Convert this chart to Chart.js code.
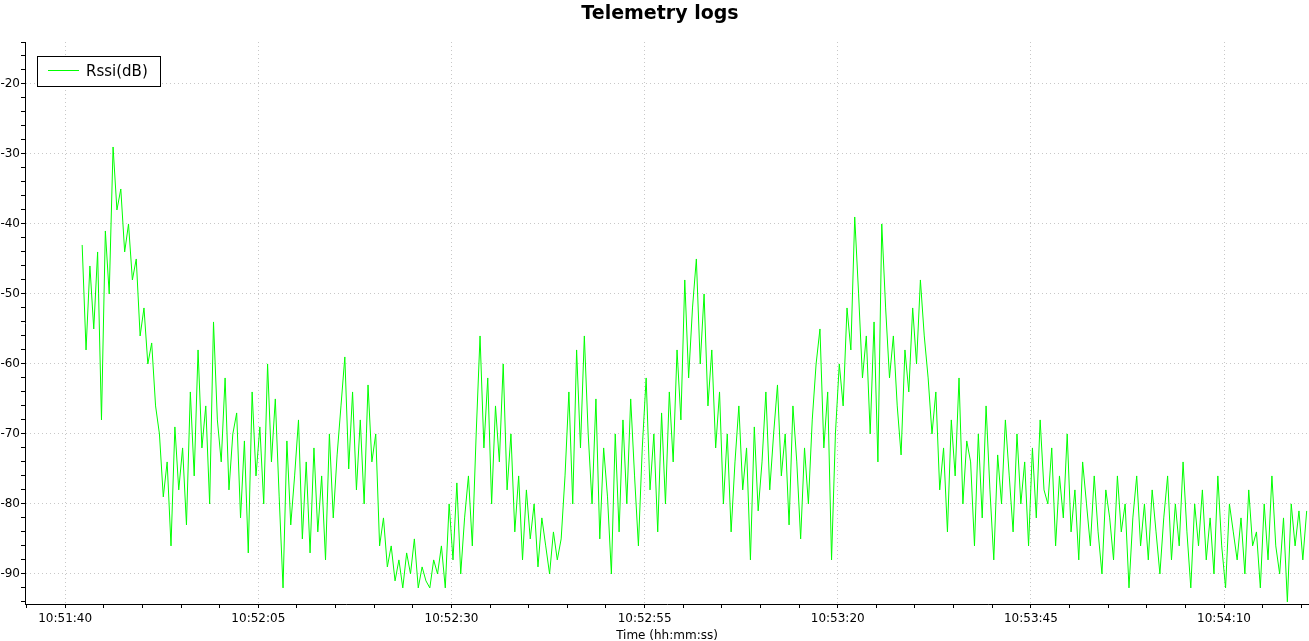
<!DOCTYPE html>
<html>
<head>
<meta charset="utf-8">
<script src="https://cdn.jsdelivr.net/npm/chart.js@4"></script>
<style>
  html, body { margin: 0; padding: 0; background: #fff; }
  #wrap { width: 1309px; height: 641px; }
</style>
</head>
<body>
<div id="wrap"><canvas id="c"></canvas></div>
<script>
// seconds after 10:51:40, first sample and sample spacing
const startSec = 2.2;
const stepSec = 0.5;
const rssi = [
  -43,-58,-46,-55,-44,-68,-41,-50,-29,-38,
  -35,-44,-40,-48,-45,-56,-52,-60,-57,-66,
  -70,-79,-74,-86,-69,-78,-72,-83,-64,-76,
  -58,-72,-66,-80,-54,-68,-74,-62,-78,-70,
  -67,-82,-71,-87,-64,-76,-69,-80,-60,-74,
  -65,-79,-92,-71,-83,-76,-68,-85,-74,-87,
  -72,-84,-76,-88,-70,-82,-73,-66,-59,-75,
  -64,-78,-68,-80,-63,-74,-70,-86,-82,-89,
  -86,-91,-88,-92,-87,-90,-85,-92,-89,-91,
  -92,-88,-90,-86,-92,-80,-88,-77,-90,-82,
  -76,-86,-70,-56,-72,-62,-80,-66,-74,-60,
  -78,-70,-84,-76,-88,-78,-85,-80,-89,-82,
  -86,-90,-84,-88,-85,-76,-64,-80,-58,-72,
  -56,-70,-80,-65,-85,-72,-79,-90,-70,-84,
  -68,-80,-65,-76,-86,-72,-62,-78,-70,-84,
  -67,-80,-64,-74,-58,-68,-48,-62,-52,-45,
  -60,-50,-66,-58,-72,-64,-80,-70,-84,-74,
  -66,-78,-72,-88,-69,-81,-74,-64,-78,-70,
  -63,-76,-70,-83,-66,-74,-85,-72,-80,-68,
  -60,-55,-72,-64,-88,-70,-60,-66,-52,-58,
  -39,-50,-62,-56,-70,-54,-74,-40,-52,-62,
  -56,-66,-73,-58,-64,-52,-60,-48,-56,-62,
  -70,-64,-78,-72,-84,-68,-76,-62,-80,-71,
  -74,-86,-70,-82,-66,-78,-88,-73,-80,-68,
  -76,-84,-70,-80,-74,-86,-72,-82,-68,-78,
  -80,-72,-86,-76,-82,-70,-84,-78,-88,-74,
  -80,-86,-76,-84,-90,-78,-82,-88,-76,-84,
  -80,-92,-82,-76,-86,-80,-88,-78,-84,-90,
  -82,-76,-88,-80,-86,-74,-84,-92,-80,-86,
  -78,-88,-82,-90,-76,-86,-92,-80,-84,-88,
  -82,-90,-78,-86,-84,-92,-80,-88,-76,-86,
  -90,-82,-94,-80,-86,-81,-88,-81
];
const points = rssi.map((v, i) => ({ x: startSec + i * stepSec, y: v }));

function hms(sec) {
  let total = 10 * 3600 + 51 * 60 + 40 + Math.round(sec);
  const h = Math.floor(total / 3600), m = Math.floor(total / 60) % 60, s = total % 60;
  const p = n => String(n).padStart(2, '0');
  return p(h) + ':' + p(m) + ':' + p(s);
}

const font = { family: "'DejaVu Sans', sans-serif", size: 12 };

// title, x title and boxed legend drawn by hand
const decor = {
  id: 'decor',
  afterDraw(chart) {
    const ctx = chart.ctx;
    ctx.save();
    ctx.fillStyle = '#000';
    ctx.textAlign = 'center';
    ctx.textBaseline = 'middle';
    ctx.font = "bold 19px 'DejaVu Sans', sans-serif";
    ctx.fillText('Telemetry logs', 660, 14);
    ctx.font = "12px 'DejaVu Sans', sans-serif";
    ctx.fillText('Time (hh:mm:ss)', 667, 636);
    ctx.fillStyle = '#fff';
    ctx.fillRect(37.5, 56.5, 123, 30);
    ctx.strokeStyle = '#000';
    ctx.lineWidth = 1;
    ctx.strokeRect(37.5, 56.5, 123, 30);
    ctx.strokeStyle = '#00ff00';
    ctx.beginPath(); ctx.moveTo(48, 70.5); ctx.lineTo(79, 70.5); ctx.stroke();
    ctx.fillStyle = '#000';
    ctx.textAlign = 'left';
    ctx.font = "15px 'DejaVu Sans', sans-serif";
    ctx.fillText('Rssi(dB)', 86, 72);
    ctx.restore();
  }
};

new Chart(document.getElementById('c'), {
  type: 'line',
  data: { datasets: [{ data: points, borderColor: '#00ff00', borderWidth: 1, pointRadius: 0, tension: 0 }] },
  options: {
    responsive: true,
    maintainAspectRatio: false,
    animation: false,
    layout: { padding: { top: 42, right: 0, left: 0, bottom: 0 } },
    plugins: { legend: { display: false }, title: { display: false }, tooltip: { enabled: false } },
    scales: {
      x: {
        type: 'linear', min: -5.2, max: 161,
        afterFit: s => { s.height = 37; },
        ticks: {
          stepSize: 5, includeBounds: false, autoSkip: false, maxRotation: 0,
          color: '#000', font, padding: 4,
          callback: v => (Math.round(v) % 25 === 0 ? hms(v) : '')
        },
        grid: {
          color: c => (c.tick && Math.round(c.tick.value) % 25 === 0 ? '#c8c8c8' : 'rgba(0,0,0,0)'),
          tickColor: '#000', tickLength: 4
        },
        border: { color: '#000', width: 1, dash: [1, 3] }
      },
      y: {
        min: -94.3, max: -14,
        afterFit: s => { s.width = 25; },
        ticks: {
          stepSize: 2, includeBounds: false, autoSkip: false,
          color: '#000', font, padding: 1,
          callback: v => (Math.round(v) % 10 === 0 ? String(v) : '')
        },
        grid: {
          color: c => (c.tick && Math.round(c.tick.value) % 10 === 0 ? '#c8c8c8' : 'rgba(0,0,0,0)'),
          tickColor: '#000', tickLength: 4
        },
        border: { color: '#000', width: 1, dash: [1, 3] }
      }
    }
  },
  plugins: [decor]
});
</script>
</body>
</html>
